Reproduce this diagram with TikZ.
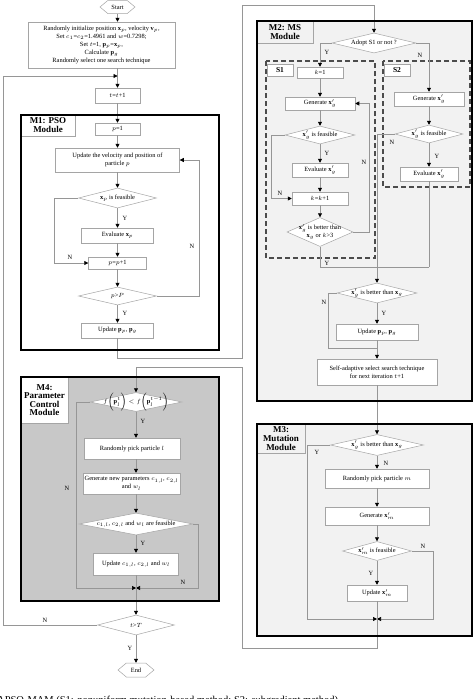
\documentclass[tikz,border=0pt]{standalone}
\usepackage{fontspec}
\setmainfont{Liberation Serif}
\usetikzlibrary{arrows.meta,shapes.geometric,shapes.symbols,calc}
\definecolor{lg}{RGB}{150,150,150}
\definecolor{nb}{RGB}{165,165,165}
\definecolor{bgtwo}{RGB}{242,242,242}
\definecolor{bgfour}{RGB}{200,200,200}
\begin{document}
\begin{tikzpicture}[x=1pt,y=-1pt,
  box/.style={draw=nb, fill=white, line width=0.5pt, inner sep=0pt, font=\fontsize{6.4}{8}\selectfont, align=center},
  dia/.style={diamond, draw=nb, fill=white, line width=0.5pt, inner sep=0pt},
  dtxt/.style={inner sep=0pt, font=\fontsize{6.4}{8}\selectfont, align=center},
  term/.style={signal, signal to=east and west, signal pointer angle=80, draw=nb, fill=white, line width=0.5pt, inner sep=0pt, font=\fontsize{6.4}{8}\selectfont},
  conn/.style={draw=lg, line width=0.6pt},
  arr/.style={conn, -{Triangle[width=4pt,length=4pt,color=black]}},
  module/.style={draw=black, line width=1.8pt},
  mlabel/.style={draw=nb, line width=0.5pt, inner sep=0pt, font=\fontsize{9}{9}\selectfont\bfseries, align=center},
  slabel/.style={draw=nb, fill=white, line width=0.5pt, inner sep=0pt, font=\fontsize{7.5}{8}\selectfont\bfseries},
  sbox/.style={draw=black!70, dash pattern=on 5pt off 3pt, line width=1.2pt},
  yn/.style={font=\fontsize{6.4}{8}\selectfont, inner sep=0pt}]
\useasboundingbox (0,0) rectangle (474,699);
\fill[white] (0,0) rectangle (474,699);
% module backgrounds
\fill[white] (21,115) rectangle (219,350);
\fill[bgtwo] (257,21) rectangle (472,401);
\fill[bgtwo] (257,424) rectangle (472,636);
\fill[bgfour] (21,377) rectangle (219,601);
% dashed sub-boxes
\draw[sbox] (266,61) rectangle (375,258);
\draw[sbox] (383,61) rectangle (470,187);
% module labels
\node[mlabel, fill=white, minimum width=54pt, minimum height=21pt] (l1) at (48,125.5) {M1: PSO\\Module};
\node[mlabel, fill=bgtwo, minimum width=56pt, minimum height=22pt] (l2) at (285,32) {M2: MS\\Module};
\node[mlabel, fill=bgtwo, minimum width=48pt, minimum height=29pt] (l3) at (281,438.5) {M3:\\Mutation\\Module};
\node[mlabel, fill=white, minimum width=47pt, minimum height=46pt, font=\fontsize{9}{8.5}\selectfont\bfseries] (l4) at (44.5,400) {M4:\\Parameter\\Control\\Module};
\node[slabel, minimum width=26pt, minimum height=12pt] (s1l) at (280,70) {S1};
\node[slabel, minimum width=26pt, minimum height=12pt] (s2l) at (397,70) {S2};
% top part
\node[term, minimum width=35pt, minimum height=13pt] (start) at (117.5,7) {Start};
\node[box, minimum width=147pt, minimum height=46pt] (init) at (101.5,45) {Randomly initialize position $\mathbf{x}_p$, velocity $\mathbf{v}_p$,\\Set $c_1$=$c_2$=1.4961 and $w$=0.7298;\\Set $t$=1, $\mathbf{p}_p$=$\mathbf{x}_p$,\\Calculate $\mathbf{p}_g$\\Randomly select one search technique};
\node[box, minimum width=45pt, minimum height=15pt] (tbox) at (117.5,95.5) {$t$=$t$+1};
\coordinate (j1) at (117.5,76);
% M1
\node[box, minimum width=45pt, minimum height=12pt] (p1) at (117.5,129) {$p$=1};
\node[box, minimum width=124pt, minimum height=24pt] (upd) at (117.5,160) {Update the velocity and position of\\particle $p$};
\node[dia, minimum width=78pt, minimum height=20pt] (d1) at (117.5,198) {};
\node[dtxt] (d1t) at (d1) {$\mathbf{x}_p$ is feasible};
\node[box, minimum width=72pt, minimum height=15pt] (eval) at (117.5,235.5) {Evaluate $\mathbf{x}_p$};
\node[box, minimum width=58pt, minimum height=12pt] (pp) at (117.5,263) {$p$=$p$+1};
\node[dia, minimum width=78pt, minimum height=18pt] (d2) at (117.5,296) {};
\node[dtxt] (d2t) at (d2) {$p$>$P$};
\node[box, minimum width=72pt, minimum height=15pt] (updpg) at (117.5,330.5) {Update $\mathbf{p}_p$, $\mathbf{p}_g$};
% M2
\node[dia, minimum width=84pt, minimum height=20pt] (dA) at (374,43) {};
\node[dtxt] (dAt) at (dA) {Adopt S1 or not ?};
\node[box, minimum width=46pt, minimum height=11pt] (k1) at (320,72.5) {$k$=1};
\node[box, minimum width=70pt, minimum height=13pt] (gen1) at (320,103.5) {Generate $\mathbf{x}_g'$};
\node[dia, minimum width=70pt, minimum height=18pt] (df1) at (320,135) {};
\node[dtxt] (df1t) at (df1) {$\mathbf{x}_g'$ is feasible};
\node[box, minimum width=56pt, minimum height=14pt] (ev1) at (320,170) {Evaluate $\mathbf{x}_g'$};
\node[box, minimum width=56pt, minimum height=13pt] (kk) at (320,198.5) {$k$=$k$+1};
\node[dia, minimum width=66pt, minimum height=29pt] (db1) at (320,232) {};
\node[dtxt] (db1t) at (db1) {$\mathbf{x}_g'$ is better than\\$\mathbf{x}_g$ or $k$>3};
\node[box, minimum width=70pt, minimum height=14pt] (gen2) at (429,99) {Generate $\mathbf{x}_g'$};
\node[dia, minimum width=68pt, minimum height=18pt] (df2) at (429,134) {};
\node[dtxt] (df2t) at (df2) {$\mathbf{x}_g'$ is feasible};
\node[box, minimum width=58pt, minimum height=14pt] (ev2) at (429,174) {Evaluate $\mathbf{x}_g'$};
\node[dia, minimum width=80pt, minimum height=20pt] (dB) at (377,293) {};
\node[dtxt] (dBt) at (dB) {$\mathbf{x}_g'$ is better than $\mathbf{x}_g$};
\node[box, minimum width=82pt, minimum height=16pt] (upd2) at (377,332) {Update $\mathbf{p}_p$, $\mathbf{p}_g$};
\node[box, minimum width=120pt, minimum height=26pt] (sa) at (377,372) {Self-adaptive select search technique\\for next iteration $t$+1};
% M3
\node[dia, minimum width=93pt, minimum height=21pt] (dM) at (377,445) {};
\node[dtxt] (dMt) at (dM) {$\mathbf{x}_g'$ is better than $\mathbf{x}_g$};
\node[box, minimum width=104pt, minimum height=19pt] (rpm) at (377,478.5) {Randomly pick particle $m$};
\node[box, minimum width=104pt, minimum height=18pt] (genm) at (377,516) {Generate $\mathbf{x}_m'$};
\node[dia, minimum width=69pt, minimum height=19pt] (dmf) at (377,551) {};
\node[dtxt] (dmft) at (dmf) {$\mathbf{x}_m'$ is feasible};
\node[box, minimum width=60pt, minimum height=16pt] (updm) at (377,593) {Update $\mathbf{x}_m'$};
\coordinate (merge3) at (377,619);
% M4
\node[dia, minimum width=92pt, minimum height=19pt] (df) at (136,402) {};
\node[dtxt] (dft) at (df) {$f\bigl(\mathbf{p}_l^{t}\bigr)<f\bigl(\mathbf{p}_l^{t-1}\bigr)$};
\node[box, minimum width=96pt, minimum height=21pt] (rpl) at (132,448.5) {Randomly pick particle $l$};
\node[box, minimum width=97pt, minimum height=21pt] (gnp) at (131.5,483.5) {Generate new parameters $c_{1,l}$, $c_{2,l}$\\and $w_l$};
\node[dia, minimum width=114pt, minimum height=22pt] (dcf) at (136,524) {};
\node[dtxt] (dcft) at (dcf) {$c_{1,l}$, $c_{2,l}$ and $w_l$ are feasible};
\node[box, minimum width=85pt, minimum height=22pt] (updc) at (136,564) {Update $c_{1,l}$, $c_{2,l}$ and $w_l$};
\coordinate (merge4) at (136,588);
% bottom
\node[dia, minimum width=77pt, minimum height=20pt] (dT) at (136,625) {};
\node[dtxt] (dTt) at (dT) {$t$>$T$};
\node[term, minimum width=36pt, minimum height=14pt] (endn) at (136,670) {End};
% connectors: top and M1
\draw[arr] (start.south) -- (start.south |- init.north);
\draw[arr] (tbox.north |- init.south) -- (tbox.north);
\draw[arr] (dT.west) -| (3,76) -- (j1);
\draw[arr] (tbox.south) -- (p1.north);
\draw[arr] (p1.south) -- (upd.north);
\draw[arr] (upd.south) -- (d1.north);
\draw[arr] (d1.south) -- (eval.north);
\draw[arr] (eval.south) -- (pp.north);
\draw[arr] (pp.south) -- (d2.north);
\draw[arr] (d2.south) -- (updpg.north);
\draw[arr] (d1.west) -- ++(-24,0) |- (pp.west);
\draw[arr] (d2.east) -- ++(43,0) |- (upd.east);
\draw[arr] (updpg.south) -- (117.5,358) -- (242,358) -- (242,5) -| (dA.north);
% M2
\draw[arr] (dA.west) -| (k1.north);
\draw[arr] (dA.east) -| (gen2.north);
\draw[arr] (k1.south) -- (gen1.north);
\draw[arr] (gen1.south) -- (df1.north);
\draw[arr] (df1.south) -- (ev1.north);
\draw[arr] (ev1.south) -- (kk.north);
\draw[arr] (kk.south) -- (db1.north);
\draw[arr] (df1.west) -- ++(-13,0) |- (kk.west);
\draw[arr] (db1.east) -- ++(16,0) |- (gen1.east);
\draw[conn] (db1.south) |- (429,267);
\draw[arr] (gen2.south) -- (df2.north);
\draw[arr] (df2.south) -- (ev2.north);
\draw[conn] (ev2.south) -- (429,267);
\draw[arr] (df2.west) -- (377,134) -- (dB.north);
\draw[conn] (dB.west) -- ++(-8,0) |- (377,348);
\draw[arr] (dB.south) -- (upd2.north);
\draw[arr] (upd2.south) -- (sa.north);
\draw[arr] (sa.south) -- (dM.north);
% M3
\draw[arr] (dM.south) -- (rpm.north);
\draw[arr] (rpm.south) -- (genm.north);
\draw[arr] (genm.south) -- (dmf.north);
\draw[arr] (dmf.south) -- (updm.north);
\draw[arr] (dM.west) -- ++(-23,0) |- (merge3);
\draw[arr] (dmf.east) -- ++(22,0) |- (merge3);
\draw[arr] (updm.south) -- (377,648) -- (242,648) -- (242,367) -| (df.north);
% M4
\draw[arr] (df.south) -- (df.south |- rpl.north);
\draw[arr] (df.south |- rpl.south) -- (df.south |- gnp.north);
\draw[arr] (df.south |- gnp.south) -- (dcf.north);
\draw[arr] (dcf.south) -- (updc.north);
\draw[arr] (df.west) -- ++(-13,0) |- (merge4);
\draw[arr] (dcf.east) -- ++(5,0) |- (merge4);
\draw[arr] (updc.south) -- (dT.north);
\draw[arr] (dT.south) -- (endn.north);
% module borders
\draw[module] (21,115) rectangle (219,350);
\draw[module] (257,21) rectangle (472,401);
\draw[module] (257,424) rectangle (472,636);
\draw[module] (21,377) rectangle (219,601);
% Y/N labels
\node[yn] (y1) at (125,218) {Y};
\node[yn] (n1) at (70,257) {N};
\node[yn] (n2) at (192,246) {N};
\node[yn] (y2) at (125,313) {Y};
\node[yn] (y3) at (327,52) {Y};
\node[yn] (n3) at (420,55) {N};
\node[yn] (y4) at (327,153) {Y};
\node[yn] (n4) at (280,193) {N};
\node[yn] (n5) at (364,162) {N};
\node[yn] (y5) at (327,263) {Y};
\node[yn] (y6) at (437,156) {Y};
\node[yn] (n6) at (392,142) {N};
\node[yn] (n7) at (324,302) {N};
\node[yn] (y7) at (384,313) {Y};
\node[yn] (y8) at (317,452) {Y};
\node[yn] (n8) at (386,463) {N};
\node[yn] (n9) at (423,546) {N};
\node[yn] (y9) at (371,573) {Y};
\node[yn] (y10) at (143,421) {Y};
\node[yn] (n10) at (67,488) {N};
\node[yn] (y11) at (143,543) {Y};
\node[yn] (n11) at (183,582) {N};
\node[yn] (n12) at (45,620) {N};
\node[yn] (y12) at (130,648) {Y};
% caption (cut off at the bottom edge)
\node[anchor=base west, inner sep=0pt, font=\fontsize{10.5}{12}\selectfont] (cap) at (-3,703.5) {APSO-MAM (S1: nonuniform mutation-based method; S2: subgradient method)};
\end{tikzpicture}
\end{document}
